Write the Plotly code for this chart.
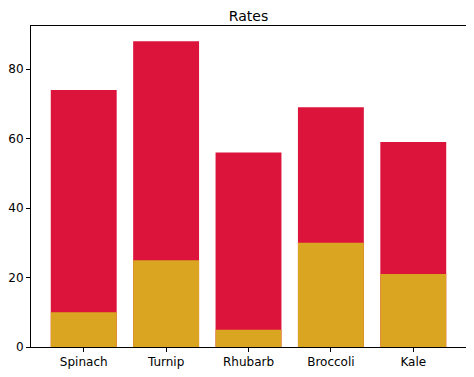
import plotly.graph_objects as go

categories = ["Spinach", "Turnip", "Rhubarb", "Broccoli", "Kale"]
totals = [74, 88, 56, 69, 59]
lower = [10, 25, 5, 30, 21]
y_ticks = [0, 20, 40, 60, 80]

fig = go.Figure()
fig.add_trace(go.Bar(x=categories, y=totals, marker=dict(color="#DC143C", line=dict(width=0)), width=0.8, showlegend=False))
fig.add_trace(go.Bar(x=categories, y=lower, marker=dict(color="#DAA520", line=dict(width=0)), width=0.8, showlegend=False))

# page body has an 8px default margin, so the figure is sized to fit the window
W, H = 466, 369
fig.update_layout(
    width=W, height=H,
    barmode="overlay",
    plot_bgcolor="white", paper_bgcolor="white",
    margin=dict(l=23, r=8, t=18, b=29.5, autoexpand=False),
    font=dict(family="DejaVu Sans", size=12, color="black"),
    title=dict(text="Rates", x=0.5, xref="paper", xanchor="center", y=1 - 8 / H, yanchor="middle", font=dict(size=14)),
    xaxis=dict(range=[-0.64, 4.64], showline=True, linecolor="black", linewidth=1, mirror=True,
               ticks="outside", ticklen=4, tickcolor="black", showgrid=False),
    yaxis=dict(range=[0, 92.4], tickvals=y_ticks, showline=True, linecolor="black", linewidth=1, mirror=True,
               ticks="outside", ticklen=4, tickcolor="black", showgrid=False, zeroline=False),
)
fig.write_html("out.html")
